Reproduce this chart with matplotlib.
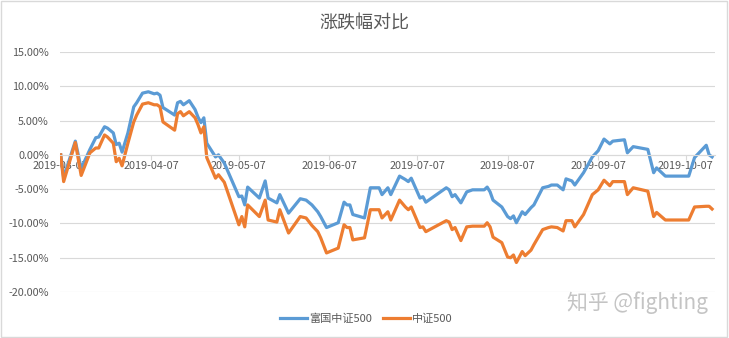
import numpy as np
import pandas as pd
import matplotlib
matplotlib.use('Agg')
import matplotlib.pyplot as plt
import matplotlib.dates as mdates
from matplotlib.ticker import FuncFormatter
from matplotlib.patches import Rectangle

plt.rcParams['font.family'] = ['Noto Sans CJK SC', 'DejaVu Sans']

# 数据 (从图上读取的折点)
fechas = ['2019-03-07', '2019-03-08', '2019-03-12', '2019-03-14', '2019-03-17',
          '2019-03-19', '2019-03-20', '2019-03-22', '2019-03-23', '2019-03-25',
          '2019-03-26', '2019-03-27', '2019-03-28', '2019-03-30', '2019-04-01',
          '2019-04-02', '2019-04-04', '2019-04-06', '2019-04-08', '2019-04-09',
          '2019-04-10', '2019-04-11', '2019-04-15', '2019-04-16', '2019-04-17',
          '2019-04-18', '2019-04-20', '2019-04-22', '2019-04-23', '2019-04-24',
          '2019-04-25', '2019-04-26', '2019-04-29', '2019-04-30', '2019-05-02',
          '2019-05-07', '2019-05-08', '2019-05-09', '2019-05-10', '2019-05-14',
          '2019-05-16', '2019-05-17', '2019-05-20', '2019-05-21', '2019-05-24',
          '2019-05-28', '2019-05-30', '2019-06-01', '2019-06-03', '2019-06-04',
          '2019-06-06', '2019-06-10', '2019-06-12', '2019-06-13', '2019-06-14',
          '2019-06-15', '2019-06-19', '2019-06-21', '2019-06-24', '2019-06-25',
          '2019-06-27', '2019-06-28', '2019-07-01', '2019-07-03', '2019-07-04',
          '2019-07-05', '2019-07-08', '2019-07-09', '2019-07-10', '2019-07-17',
          '2019-07-18', '2019-07-19', '2019-07-20', '2019-07-22', '2019-07-24',
          '2019-07-26', '2019-07-30', '2019-07-31', '2019-08-01', '2019-08-02',
          '2019-08-05', '2019-08-07', '2019-08-08', '2019-08-09', '2019-08-10',
          '2019-08-12', '2019-08-13', '2019-08-15', '2019-08-16', '2019-08-19',
          '2019-08-21', '2019-08-22', '2019-08-24', '2019-08-26', '2019-08-27',
          '2019-08-29', '2019-08-30', '2019-09-02', '2019-09-05', '2019-09-07',
          '2019-09-09', '2019-09-11', '2019-09-12', '2019-09-16', '2019-09-17',
          '2019-09-19', '2019-09-24', '2019-09-26', '2019-09-27', '2019-09-30',
          '2019-10-08', '2019-10-10', '2019-10-14', '2019-10-15', '2019-10-16']

fuguo = [0.0, -3.3, 2.0, -2.0, 0.8, 2.5, 2.6, 4.1, 3.9, 3.2,
         1.5, 1.7, 0.4, 3.2, 7.0, 7.6, 9.0, 9.2, 8.9, 9.0,
         8.7, 6.9, 5.8, 7.6, 7.8, 7.3, 7.9, 6.6, 5.5, 4.7,
         5.4, 1.7, -0.3, 0.0, -1.2, -6.1, -6.0, -7.3, -4.7, -6.3,
         -3.8, -6.3, -7.0, -5.8, -8.5, -6.4, -6.6, -7.3, -8.3, -9.0,
         -10.6, -9.9, -6.9, -7.3, -7.3, -8.7, -9.2, -4.8, -4.8, -5.8,
         -4.8, -5.8, -3.1, -3.6, -3.9, -3.4, -6.3, -6.1, -6.9, -4.8,
         -5.1, -6.1, -5.8, -7.0, -5.4, -5.1, -5.1, -4.7, -5.4, -6.6,
         -7.6, -9.0, -9.3, -8.9, -9.9, -8.3, -8.7, -7.7, -7.3, -4.8,
         -4.6, -4.4, -4.4, -5.1, -3.5, -3.8, -4.4, -2.6, -0.3, 0.6,
         2.3, 1.6, 2.0, 2.2, 0.3, 1.2, 0.8, -2.6, -1.9, -3.1,
         -3.1, -0.4, 1.4, 0.0, -0.3]

zz500 = [0.0, -3.9, 1.8, -3.0, 0.3, 1.0, 1.0, 2.9, 2.6, 1.7,
         -1.0, -0.5, -1.6, 1.7, 4.8, 5.8, 7.4, 7.6, 7.3, 7.3,
         7.0, 4.8, 3.6, 6.0, 6.3, 5.7, 6.3, 5.4, 4.4, 3.2,
         4.1, -0.4, -3.4, -2.9, -4.0, -10.2, -9.0, -10.5, -7.3, -9.0,
         -6.6, -9.5, -9.8, -8.0, -11.4, -9.0, -9.2, -10.3, -11.2, -12.1,
         -14.3, -13.6, -10.2, -10.6, -10.6, -12.4, -12.1, -8.0, -8.0, -9.2,
         -8.3, -9.5, -6.6, -7.6, -8.0, -7.6, -10.6, -10.5, -11.2, -9.6,
         -9.8, -10.9, -10.6, -12.5, -10.5, -10.4, -10.4, -9.9, -10.5, -12.0,
         -12.8, -14.9, -15.0, -14.6, -15.7, -14.1, -14.7, -13.9, -13.1, -10.9,
         -10.6, -10.5, -10.6, -11.1, -9.6, -9.6, -10.5, -8.7, -5.8, -5.1,
         -3.7, -4.5, -3.9, -3.9, -5.8, -4.8, -5.3, -9.0, -8.4, -9.5,
         -9.5, -7.6, -7.5, -7.5, -7.9]

etiquetas_x = ['2019-03-07', '2019-04-07', '2019-05-07', '2019-06-07',
               '2019-07-07', '2019-08-07', '2019-09-07', '2019-10-07']
ticks_y = [-20, -15, -10, -5, 0, 5, 10, 15]

series = ['富国中证500', '中证500']
colores = ['#5B9BD5', '#ED7D31']

fechas = pd.to_datetime(fechas)
gris = '#595959'

fig = plt.figure(figsize=(7.29, 3.38), dpi=100)
ax = fig.add_axes([60/729, 1 - 292/338, (715 - 60)/729, 240/338])

ax.plot(fechas, fuguo, color=colores[0], lw=2.3, label=series[0], solid_joinstyle='round')
ax.plot(fechas, zz500, color=colores[1], lw=2.3, label=series[1], solid_joinstyle='round')

ax.set_ylim(-20, 15)
ax.set_yticks(ticks_y)
ax.yaxis.set_major_formatter(FuncFormatter(lambda v, p: '%.2f%%' % v))
ax.set_xlim(pd.Timestamp('2019-03-06 18:00'), pd.Timestamp('2019-10-17'))
ax.set_xticks(pd.to_datetime(etiquetas_x))
ax.xaxis.set_major_formatter(mdates.DateFormatter('%Y-%m-%d'))

ax.grid(axis='y', color='#D9D9D9', lw=0.8)
ax.set_axisbelow(True)
for s in ['top', 'right', 'left']:
    ax.spines[s].set_visible(False)
ax.spines['bottom'].set_position(('data', 0))
ax.spines['bottom'].set_color('#D9D9D9')
ax.spines['bottom'].set_linewidth(0.8)

ax.tick_params(axis='y', length=0, pad=8, labelsize=7.8, labelcolor=gris)
ax.tick_params(axis='x', length=3.5, width=0.8, color='#D9D9D9', pad=1,
               labelsize=7.8, labelcolor=gris)

fig.text(0.5, 0.932, '涨跌幅对比', ha='center', va='center', fontsize=13, color=gris)

fig.legend(loc='center', bbox_to_anchor=(0.503, 0.058), ncol=2, frameon=False,
           fontsize=8, labelcolor=gris, handlelength=2.4, handletextpad=0.2,
           columnspacing=1.0)

fig.text(0.874, 0.105, '知乎 @fighting', ha='center', va='center',
         fontsize=15, color='#C4C4C4')

# borde del gráfico
fig.patches.append(Rectangle((0.002, 0.003), 0.995, 0.994, transform=fig.transFigure,
                             fill=False, edgecolor='#D9D9D9', lw=1))

fig.savefig('out.png', dpi=100)
